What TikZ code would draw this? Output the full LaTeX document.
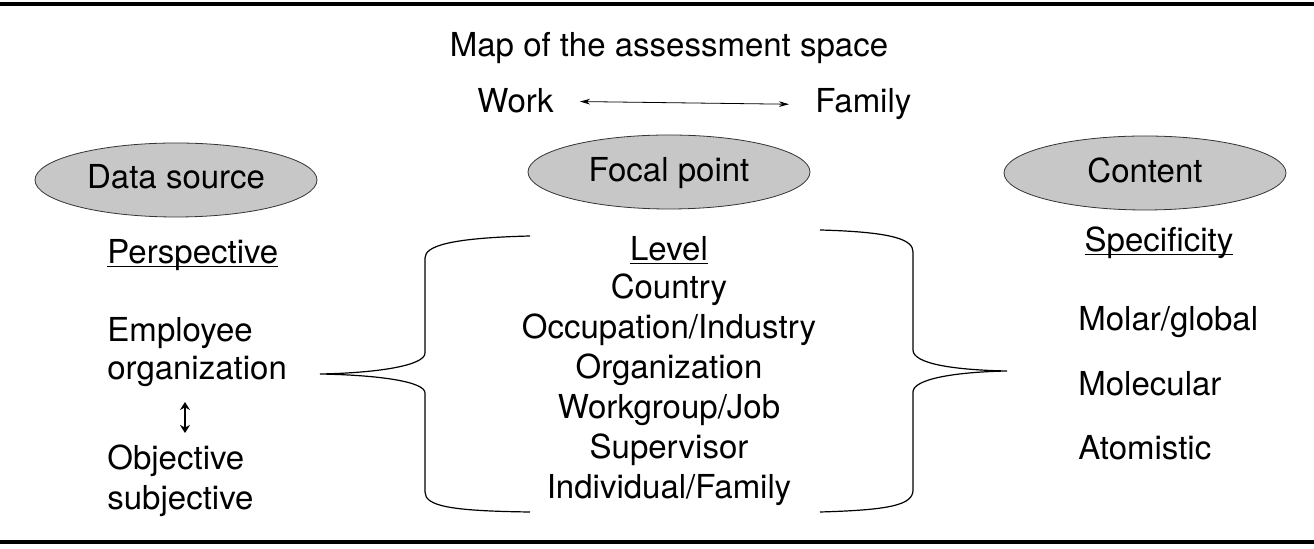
\documentclass[tikz,border=0pt]{standalone}
\usepackage{fontspec}
\setmainfont{TeX Gyre Heros}
\usetikzlibrary{arrows.meta,shapes.geometric}
\newcommand{\headline}[1]{\underline{\smash{#1}}}
\tikzset{
  txt/.style={inner sep=0pt,font=\fontsize{16.5}{20}\selectfont},
  oval/.style={ellipse,draw=black!80,thin,fill=black!22,minimum width=141pt,minimum height=37pt,inner sep=0pt},
  brace/.style={draw,semithick},
}
\begin{document}
\begin{tikzpicture}[x=0.5pt,y=-0.5pt]
\useasboundingbox (0,0) rectangle (1314,549);
\draw[line width=1.8pt] (0,4) -- (1314,4);
\draw[line width=2pt] (0,542) -- (1314,542);

\node[txt,anchor=base] (title) at (669,57) {Map of the assessment space};
\node[txt,anchor=base west] (work) at (477,113) {Work};
\node[txt,anchor=base west] (family) at (815,113) {Family};
\draw[{Stealth[length=5pt,width=2.8pt]}-{Stealth[length=5pt,width=2.8pt]},thin,shorten <=13pt,shorten >=13pt] (work.east) -- (family.west);

\node[oval] (source) at (176,180) {};
\node[txt,anchor=base] at (176,189) {Data source};
\node[oval] (focal) at (669,172) {};
\node[txt,anchor=base] at (669,182) {Focal point};
\node[oval] (content) at (1145,173) {};
\node[txt,anchor=base] at (1145,183) {Content};

% data source
\node[txt,anchor=base west] (persp) at (107,264) {\headline{Perspective}};
\node[txt,anchor=base west] (empl) at (107,342) {Employee};
\node[txt,anchor=base west] (org) at (107,380) {organization};
\node[txt,anchor=base west] (obj) at (107,470) {Objective};
\node[txt,anchor=base west] (subj) at (107,510) {subjective};
\coordinate (up) at (185,402);
\coordinate (down) at (185,433);
\draw[{Stealth[length=4pt,width=5pt]}-{Stealth[length=4pt,width=5pt]},line width=0.9pt] (up) -- (down);

% focal point
\node[txt,anchor=base] (level) at (669,261) {\headline{Level}};
\node[txt,anchor=base] (country) at (669,299) {Country};
\node[txt,anchor=base] (occup) at (669,339) {Occupation/Industry};
\node[txt,anchor=base] (organ) at (669,379) {Organization};
\node[txt,anchor=base] (group) at (669,419) {Workgroup/Job};
\node[txt,anchor=base] (superv) at (669,459) {Supervisor};
\node[txt,anchor=base] (indiv) at (669,499) {Individual/Family};

% content
\node[txt,anchor=base] (spec) at (1159,252) {\headline{Specificity}};
\node[txt,anchor=base west] (molar) at (1078,331) {Molar/global};
\node[txt,anchor=base west] (molec) at (1078,396) {Molecular};
\node[txt,anchor=base west] (atom) at (1078,460) {Atomistic};

% braces
\coordinate (ltop) at (530,236);
\coordinate (ltip) at (320,374);
\coordinate (lbot) at (530,512);
\draw[brace] (ltop) .. controls (450,238) and (425,246) .. (425,258) -- (425,353)
  .. controls (425,366) and (375,373) .. (ltip)
  .. controls (375,375) and (425,381) .. (425,393) -- (425,492)
  .. controls (425,506) and (450,511) .. (lbot);
\coordinate (rtop) at (820,230);
\coordinate (rtip) at (1007,371);
\coordinate (rbot) at (820,512);
\draw[brace] (rtop) .. controls (895,232) and (913,240) .. (913,252) -- (913,350)
  .. controls (913,364) and (955,370) .. (rtip)
  .. controls (955,372) and (913,379) .. (913,392) -- (913,490)
  .. controls (913,505) and (890,510) .. (rbot);

\end{tikzpicture}
\end{document}
